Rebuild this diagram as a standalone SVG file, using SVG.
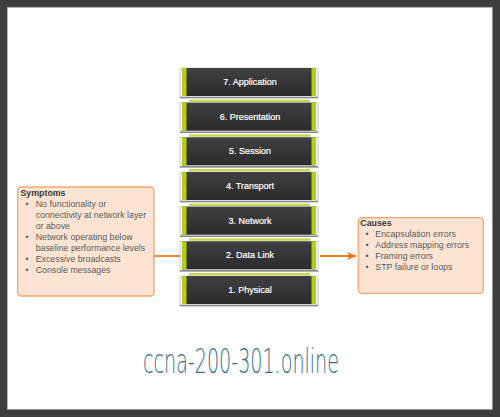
<svg xmlns="http://www.w3.org/2000/svg" width="500" height="417" viewBox="0 0 500 417">
<defs>
<linearGradient id="body" x1="0" y1="0" x2="0" y2="1">
<stop offset="0" stop-color="#414042"/>
<stop offset="1" stop-color="#2b2a2c"/>
</linearGradient>
<marker id="arr" markerWidth="10" markerHeight="8" refX="9" refY="4" orient="auto" markerUnits="userSpaceOnUse">
<path d="M0,0 L10,4 L0,8 L2.5,4 Z" fill="#f47b20"/>
</marker>
<style>
.frame{fill:#f2f2f2;stroke:#c8c8c8;stroke-width:0.8}
.body{fill:url(#body)}
.lime{fill:#b5cc18}
.limet{fill:#c9d84a}
.shade{stroke:#8a8a8a;stroke-width:1.5}
.lbl{font-family:"Liberation Sans",Arial,sans-serif;font-size:9px;fill:#ffffff;text-anchor:middle;stroke:#ffffff;stroke-width:0.2}
.box{fill:#fde4d2;stroke:#f5a56c;stroke-width:1.3}
.hd{font-family:"Liberation Sans",Arial,sans-serif;font-size:8.8px;font-weight:bold;fill:#3a3a3a}
.it{font-family:"Liberation Sans",Arial,sans-serif;font-size:8.8px;fill:#5a5a5a}
.conn{stroke:#f47b20;stroke-width:1.8;fill:none}
</style>
</defs>
<rect x="0" y="0" width="500" height="417" fill="#3c3d3f"/>
<rect x="7.3" y="7.3" width="485" height="402" fill="#ffffff" stroke="#a8a8a8" stroke-width="0.8"/>

<g id="layer7">
<rect class="frame" x="180" y="68" width="138" height="30"/>
<rect class="body" x="182" y="68" width="134" height="28"/>
<rect class="lime" x="182" y="68" width="4.5" height="28"/>
<rect class="lime" x="311.5" y="68" width="4.5" height="28"/>
<line class="shade" x1="180" y1="97.5" x2="318" y2="97.5"/>
<text class="lbl" x="250" y="85">7. Application</text>
</g>
<g id="layer6">
<rect class="limet" x="189" y="99.7" width="121" height="2.5"/>
<rect class="frame" x="180" y="102.7" width="138" height="30"/>
<rect class="body" x="182" y="102.7" width="134" height="28"/>
<rect class="lime" x="182" y="102.7" width="4.5" height="28"/>
<rect class="lime" x="311.5" y="102.7" width="4.5" height="28"/>
<line class="shade" x1="180" y1="132.2" x2="318" y2="132.2"/>
<text class="lbl" x="250" y="119.7">6. Presentation</text>
</g>
<g id="layer5">
<rect class="limet" x="189" y="134.3" width="121" height="2.5"/>
<rect class="frame" x="180" y="137.3" width="138" height="30"/>
<rect class="body" x="182" y="137.3" width="134" height="28"/>
<rect class="lime" x="182" y="137.3" width="4.5" height="28"/>
<rect class="lime" x="311.5" y="137.3" width="4.5" height="28"/>
<line class="shade" x1="180" y1="166.8" x2="318" y2="166.8"/>
<text class="lbl" x="250" y="154.3">5. Session</text>
</g>
<g id="layer4">
<rect class="limet" x="189" y="169" width="121" height="2.5"/>
<rect class="frame" x="180" y="172" width="138" height="30"/>
<rect class="body" x="182" y="172" width="134" height="28"/>
<rect class="lime" x="182" y="172" width="4.5" height="28"/>
<rect class="lime" x="311.5" y="172" width="4.5" height="28"/>
<line class="shade" x1="180" y1="201.5" x2="318" y2="201.5"/>
<text class="lbl" x="250" y="189">4. Transport</text>
</g>
<g id="layer3">
<rect class="limet" x="189" y="203.7" width="121" height="2.5"/>
<rect class="frame" x="180" y="206.7" width="138" height="30"/>
<rect class="body" x="182" y="206.7" width="134" height="28"/>
<rect class="lime" x="182" y="206.7" width="4.5" height="28"/>
<rect class="lime" x="311.5" y="206.7" width="4.5" height="28"/>
<line class="shade" x1="180" y1="236.2" x2="318" y2="236.2"/>
<text class="lbl" x="250" y="223.7">3. Network</text>
</g>
<g id="layer2">
<rect class="limet" x="189" y="238.3" width="121" height="2.5"/>
<rect class="frame" x="180" y="241.3" width="138" height="30"/>
<rect class="body" x="182" y="241.3" width="134" height="28"/>
<rect class="lime" x="182" y="241.3" width="4.5" height="28"/>
<rect class="lime" x="311.5" y="241.3" width="4.5" height="28"/>
<line class="shade" x1="180" y1="270.8" x2="318" y2="270.8"/>
<text class="lbl" x="250" y="258.3">2. Data Link</text>
</g>
<g id="layer1">
<rect class="limet" x="189" y="273" width="121" height="2.5"/>
<rect class="frame" x="180" y="276" width="138" height="30"/>
<rect class="body" x="182" y="276" width="134" height="28"/>
<rect class="lime" x="182" y="276" width="4.5" height="28"/>
<rect class="lime" x="311.5" y="276" width="4.5" height="28"/>
<line class="shade" x1="180" y1="305.5" x2="318" y2="305.5"/>
<text class="lbl" x="250" y="293">1. Physical</text>
</g>

<g id="connectors">
<line class="conn" x1="154" y1="256" x2="180" y2="256"/>
<line class="conn" x1="320" y1="256" x2="356" y2="256" marker-end="url(#arr)"/>
</g>

<g id="symptoms">
<rect class="box" x="17.7" y="187" width="136.3" height="109" rx="3.5"/>
<text class="hd" x="20.5" y="196">Symptoms</text>
<text class="it" x="25.5" y="206.7">•</text>
<text class="it" x="35.7" y="206.7">No functionality or</text>
<text class="it" x="35.7" y="217.7">connectivity at network layer</text>
<text class="it" x="35.7" y="228.7">or above</text>
<text class="it" x="25.5" y="239.7">•</text>
<text class="it" x="35.7" y="239.7">Network operating below</text>
<text class="it" x="35.7" y="250.7">baseline performance levels</text>
<text class="it" x="25.5" y="261.7">•</text>
<text class="it" x="35.7" y="261.7">Excessive broadcasts</text>
<text class="it" x="25.5" y="272.7">•</text>
<text class="it" x="35.7" y="272.7">Console messages</text>
</g>

<g id="causes">
<rect class="box" x="358.3" y="217.7" width="125" height="75.6" rx="3.5"/>
<text class="hd" x="360.3" y="226.3">Causes</text>
<text class="it" x="365.5" y="237">•</text>
<text class="it" x="375.3" y="237">Encapsulation errors</text>
<text class="it" x="365.5" y="248">•</text>
<text class="it" x="375.3" y="248">Address mapping errors</text>
<text class="it" x="365.5" y="259">•</text>
<text class="it" x="375.3" y="259">Framing errors</text>
<text class="it" x="365.5" y="270">•</text>
<text class="it" x="375.3" y="270">STP failure or loops</text>
</g>

<text x="143" y="373" font-family="'DejaVu Sans',sans-serif" font-size="33" font-weight="200" fill="#2f6f8c" textLength="196" lengthAdjust="spacingAndGlyphs">ccna-200-301.online</text>
</svg>
